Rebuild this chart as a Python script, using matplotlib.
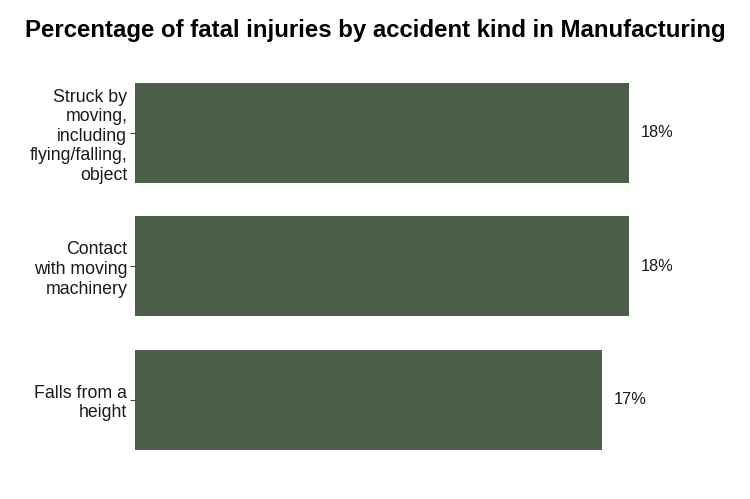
import matplotlib
matplotlib.use("Agg")
import matplotlib.pyplot as plt

# data
categories = ["Struck by\nmoving,\nincluding\nflying/falling,\nobject",
              "Contact\nwith moving\nmachinery",
              "Falls from a\nheight"]
values = [18, 18, 17]
labels = ["18%", "18%", "17%"]

plt.rcParams['font.family'] = ['Liberation Sans', 'DejaVu Sans']

W, H = 750, 499
fig = plt.figure(figsize=(W / 100, H / 100), dpi=100)
ax = fig.add_axes([135 / W, 1 - 479.5 / H, (739 - 135) / W, (479.5 - 53) / H])

pos = list(range(len(categories)))
ax.barh(pos, values, height=0.75, color="#4a5e48")
for p, v, t in zip(pos, values, labels):
    ax.text(v + 0.42, p, t, va="center", ha="left", fontsize=11.8, color="#1a1a1a")

ax.set_ylim(2.6, -0.6)
ax.set_xlim(0, 22)
ax.set_yticks(pos)
ax.set_yticklabels(categories, fontsize=12.8, color="#1a1a1a", linespacing=1.2)
ax.set_xticks([])
ax.tick_params(axis="y", length=3.5, width=0.8, color="#444444", pad=2)
for s in ax.spines.values():
    s.set_visible(False)

fig.text(0.5, 1 - 30 / H, "Percentage of fatal injuries by accident kind in Manufacturing",
         ha="center", va="center", fontsize=17.3, fontweight="bold")

fig.savefig("out.png", dpi=100)
